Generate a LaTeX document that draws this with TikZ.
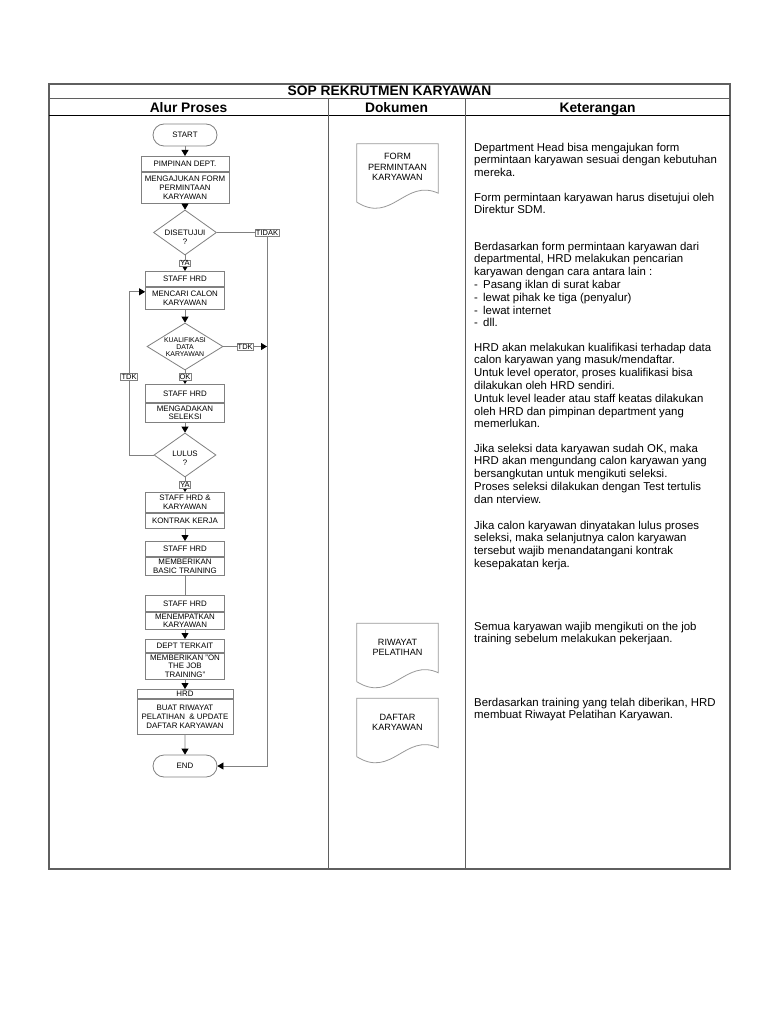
\documentclass[tikz,border=0pt]{standalone}
\usepackage{fontspec}
\setmainfont{Liberation Sans}
\usetikzlibrary{positioning,shapes.geometric,shapes.misc,arrows.meta}

\definecolor{garis}{RGB}{128,128,128}
\definecolor{bingkai}{RGB}{95,95,95}

\newcommand{\hurufalur}{\fontsize{7.9}{8.6}\selectfont}
\newcommand{\hurufket}{\fontsize{11.4}{12.8}\selectfont}
\newcommand{\hurufjudul}{\fontsize{13.8}{15}\selectfont\bfseries}
\newcommand{\hurufdok}{\fontsize{9.1}{10.7}\selectfont}

\tikzset{
    kotak/.style={draw=garis, line width=0.8pt, fill=white, minimum width=79pt, inner sep=1pt, align=center, font=\hurufalur, anchor=north},
    terminal/.style={draw=garis, line width=0.8pt, rounded rectangle, minimum width=64pt, minimum height=22pt, inner sep=0pt, font=\hurufalur},
    keputusan/.style={draw=garis, line width=0.8pt, diamond, inner sep=0pt},
    teksalur/.style={inner sep=0pt, align=center, font=\hurufalur},
    tanda/.style={draw=garis, line width=0.5pt, fill=white, inner sep=0.8pt, font=\fontsize{7.5}{8}\selectfont},
    panah/.style={draw=garis, line width=0.8pt, -{Triangle[length=6pt, width=7pt, color=black]}},
    garisan/.style={draw=garis, line width=0.8pt},
    dok/.style={minimum width=81pt, minimum height=58pt, inner sep=0pt},
    garisdok/.style={draw=garis!80, line width=0.8pt},
    teksdok/.style={inner sep=0pt, align=center, font=\hurufdok},
    teksket/.style={anchor=north west, inner sep=0pt, align=left, font=\hurufket},
    judul/.style={inner sep=0pt, anchor=base, font=\hurufjudul}
}

\begin{document}
\begin{tikzpicture}[x=1pt, y=-1pt]
    \fill[white] (0,0) rectangle (768,1024);
    \useasboundingbox (0,0) rectangle (768,1024);

    % Tabel
    \draw[bingkai, line width=1.2pt] (49,84) rectangle (730,869);
    \draw[bingkai, line width=1pt] (49,99) -- (730,99);
    \draw[black, line width=1pt] (49,116) -- (730,116);
    \draw[bingkai, line width=1pt] (328,99) -- (328,869);
    \draw[bingkai, line width=1pt] (465,99) -- (465,869);

    \node[judul] (sop) at (389.5,96) {SOP REKRUTMEN KARYAWAN};
    \node[judul] (kolAlur) at (188.5,112.5) {Alur Proses};
    \node[judul] (kolDok) at (396.5,112.5) {Dokumen};
    \node[judul] (kolKet) at (597.5,112.5) {Keterangan};

    % Alur proses
    \node[terminal] (mulai) at (185,135) {START};
    \node[kotak, minimum width=88pt, minimum height=15pt] (pimpinan) at (185,156) {PIMPINAN DEPT.};
    \node[kotak, minimum width=88pt, minimum height=31pt] (ajukan) at (pimpinan.south) {MENGAJUKAN FORM\\PERMINTAAN\\KARYAWAN};
    \node[keputusan, minimum width=63pt, minimum height=45pt] (setuju) at (185,232.5) {};
    \node[teksalur] (setujuT) at (185,237) {DISETUJUI\\?};
    \node[kotak, minimum height=15pt] (staff1) at (185,271) {STAFF HRD};
    \node[kotak, minimum height=22pt] (cari) at (staff1.south) {MENCARI CALON\\KARYAWAN};
    \node[keputusan, minimum width=76pt, minimum height=47pt] (kual) at (185,346.5) {};
    \node[teksalur, font=\fontsize{6.9}{7.3}\selectfont] (kualT) at (185,347) {KUALIFIKASI\\DATA\\KARYAWAN};
    \node[kotak, minimum height=18pt] (staff2) at (185,384) {STAFF HRD};
    \node[kotak, minimum height=19pt] (seleksi) at (staff2.south) {MENGADAKAN\\SELEKSI};
    \node[keputusan, minimum width=62pt, minimum height=44pt] (lulus) at (185,455) {};
    \node[teksalur] (lulusT) at (185,458.5) {LULUS\\?};
    \node[kotak, minimum height=20pt] (staff3) at (185,492) {STAFF HRD \&\\KARYAWAN};
    \node[kotak, minimum height=15pt] (kontrak) at (staff3.south) {KONTRAK KERJA};
    \node[kotak, minimum height=15pt] (staff4) at (185,541) {STAFF HRD};
    \node[kotak, minimum height=18pt] (basic) at (staff4.south) {MEMBERIKAN\\BASIC TRAINING};
    \node[kotak, minimum height=16pt] (staff5) at (185,595) {STAFF HRD};
    \node[kotak, minimum height=17pt] (tempat) at (staff5.south) {MENEMPATKAN\\KARYAWAN};
    \node[kotak, minimum height=13pt] (dept) at (185,639) {DEPT TERKAIT};
    \node[kotak, minimum height=26pt] (ojt) at (dept.south) {MEMBERIKAN "ON\\THE JOB\\TRAINING"};
    \node[kotak, minimum width=96pt, minimum height=9pt, inner ysep=0.5pt] (hrd) at (185,689) {HRD};
    \node[kotak, minimum width=96pt, minimum height=35pt] (buat) at (hrd.south) {BUAT RIWAYAT\\PELATIHAN \ \& UPDATE\\DAFTAR KARYAWAN};
    \node[terminal] (selesai) at (185,766) {END};

    % Panah
    \draw[panah] (mulai) -- (pimpinan);
    \draw[panah] (ajukan) -- (setuju);
    \draw[panah] (setuju) -- node[tanda] (ya1) {YA} (staff1);
    \draw[panah] (cari) -- (kual);
    \draw[panah] (kual) -- node[tanda] (ok) {OK} (staff2);
    \draw[panah] (seleksi) -- (lulus);
    \draw[panah] (lulus) -- node[tanda] (ya2) {YA} (staff3);
    \draw[panah] (kontrak) -- (staff4);
    \draw[garisan] (basic) -- (staff5);
    \draw[panah] (tempat) -- (dept);
    \draw[panah] (ojt) -- (hrd);
    \draw[panah] (buat) -- (selesai);

    % Cabang tidak
    \coordinate (pojok) at (267,232.5);
    \coordinate (balik) at (129,455);
    \draw[panah] (setuju.east) -- node[tanda, pos=1] (tidak) {TIDAK} (pojok) |- (selesai.east);
    \draw[panah] (kual.east) -- node[tanda] (tdk1) {TDK} (kual.east -| pojok);
    \draw[panah] (lulus.west) -- (balik) |- node[tanda, pos=0.24] (tdk2) {TDK} ([yshift=-5pt]cari.north west);

    % Dokumen
    \node[dok] (dokForm) at (397.5,173) {};
    \node[dok] (dokRiwayat) at (397.5,652.5) {};
    \node[dok] (dokDaftar) at (397.5,727.5) {};
    \foreach \d in {dokForm,dokRiwayat,dokDaftar}
        \draw[garisdok] (\d.south west) -- (\d.north west) -- (\d.north east) -- ([yshift=9pt]\d.south east)
            .. controls ([xshift=-33pt,yshift=24pt]\d.south east) and ([xshift=35pt,yshift=-22pt]\d.south west) .. (\d.south west);
    \node[teksdok] (dokFormT) at ([yshift=6pt]dokForm.center) {FORM\\PERMINTAAN\\KARYAWAN};
    \node[teksdok] (dokRiwayatT) at ([yshift=5pt]dokRiwayat.center) {RIWAYAT\\PELATIHAN};
    \node[teksdok] (dokDaftarT) at ([yshift=5pt]dokDaftar.center) {DAFTAR\\KARYAWAN};

    % Keterangan
    \node[teksket] (ket1) at (474,142.7) {Department Head bisa mengajukan form\\permintaan karyawan sesuai dengan kebutuhan\\mereka.};
    \node[teksket] (ket2) at (474,192.7) {Form permintaan karyawan harus disetujui oleh\\Direktur SDM.};
    \node[teksket] (ket3) at (474,241.7) {Berdasarkan form permintaan karyawan dari\\departmental, HRD melakukan pencarian\\karyawan dengan cara antara lain :\\\makebox[9pt][l]{-}Pasang iklan di surat kabar\\\makebox[9pt][l]{-}lewat pihak ke tiga (penyalur)\\\makebox[9pt][l]{-}lewat internet\\\makebox[9pt][l]{-}dll.};
    \node[teksket] (ket4) at (474,342.7) {HRD akan melakukan kualifikasi terhadap data\\calon karyawan yang masuk/mendaftar.\\Untuk level operator, proses kualifikasi bisa\\dilakukan oleh HRD sendiri.\\Untuk level leader atau staff keatas dilakukan\\oleh HRD dan pimpinan department yang\\memerlukan.};
    \node[teksket] (ket5) at (474,443.7) {Jika seleksi data karyawan sudah OK, maka\\HRD akan mengundang calon karyawan yang\\bersangkutan untuk mengikuti seleksi.\\Proses seleksi dilakukan dengan Test tertulis\\dan nterview.};
    \node[teksket] (ket6) at (474,520.7) {Jika calon karyawan dinyatakan lulus proses\\seleksi, maka selanjutnya calon karyawan\\tersebut wajib menandatangani kontrak\\kesepakatan kerja.};
    \node[teksket] (ket7) at (474,621.7) {Semua karyawan wajib mengikuti on the job\\training sebelum melakukan pekerjaan.};
    \node[teksket] (ket8) at (474,697.7) {Berdasarkan training yang telah diberikan, HRD\\membuat Riwayat Pelatihan Karyawan.};
\end{tikzpicture}
\end{document}
